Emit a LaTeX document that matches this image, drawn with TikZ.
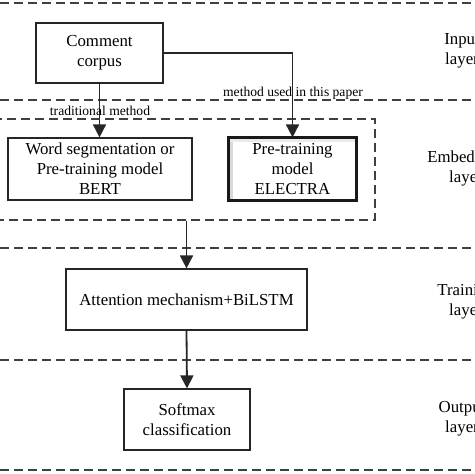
\documentclass[tikz,border=0pt]{standalone}
\usepackage{fontspec}
\setmainfont{Liberation Serif}
\usetikzlibrary{arrows.meta, positioning}

\tikzset{
	layerbox/.style={draw=black!85, line width=0.6pt, align=center, inner sep=0pt,
		font=\fontsize{8.4}{10}\selectfont},
	layerline/.style={draw=black!75, line width=0.6pt, dash pattern=on 4.5pt off 2.5pt},
	flow/.style={draw=black!85, line width=0.9pt, -{Triangle[width=6.5pt,length=6.5pt]}},
	smalltext/.style={font=\fontsize{6.8}{8}\selectfont, inner sep=0pt},
	sidetext/.style={align=center, inner sep=0pt, font=\fontsize{8.4}{10}\selectfont}
}

\begin{document}
\begin{tikzpicture}[x=0.5pt, y=-0.5pt]
			\def\xMIN{0};
			\def\xMAX{474};

			\useasboundingbox (\xMIN,0) rectangle (\xMAX,474);

			% layer borders
			\begin{scope}
				\foreach \y in {3,100,248,360,470}
				{
					\draw[layerline] (\xMIN,\y) -- (\xMAX,\y);
				}
				\node[layerline, minimum width=190pt, minimum height=50.5pt] (embed) at (185,169.5) {};
			\end{scope}

			% boxes
			\begin{scope}
				\node[layerbox, minimum width=63.5pt, minimum height=30pt] (corpus) at (99.5,53) {Comment\\corpus};
				\node[layerbox, minimum width=92pt, minimum height=31pt] (wordseg) at (100,169) {Word segmentation or\\Pre-training model\\BERT};
				\node[layerbox, minimum width=63.5pt, minimum height=31pt] (electra) at (292.5,169) {};
				\fill[black!15] ([xshift=1pt,yshift=-1pt]electra.north west) rectangle ([xshift=2.2pt,yshift=1pt]electra.south west);
				\fill[black!8] ([xshift=1pt,yshift=-1pt]electra.north west) rectangle ([xshift=-1pt,yshift=-2.2pt]electra.north east);
				\draw[draw=black!90, line width=1.3pt] (electra.north west) rectangle (electra.south east);
				\node[sidetext] at (electra) {Pre-training\\model\\ELECTRA};
				\node[layerbox, minimum width=120.5pt, minimum height=30.5pt] (attention) at (186.5,299.5) {Attention mechanism+BiLSTM};
				\node[layerbox, minimum width=63pt, minimum height=30.5pt] (softmax) at (187,419.5) {Softmax\\classification};
			\end{scope}

			% connectors
			\begin{scope}
				\draw[flow] (corpus.south) -- (corpus.south |- wordseg.north);
				\draw[flow] (corpus.east) -| (electra.north);
				\draw[flow] (attention.north |- embed.south) -- (attention.north);
				\draw[flow] (attention.south) -- (softmax.north);
				\node[smalltext] (tradlabel) at (100,111) {traditional method};
				\node[smalltext] (paperlabel) at (293,93) {method used in this paper};
			\end{scope}

			% layer names
			\begin{scope}
				\node[sidetext] (inputname) at (462,51) {Input\\layer};
				\node[sidetext] (embedname) at (466,168) {Embedding\\layer};
				\node[sidetext] (trainname) at (466,301.5) {Training\\layer};
				\node[sidetext] (outputname) at (462,419) {Output\\layer};
			\end{scope}
		\end{tikzpicture}
\end{document}
